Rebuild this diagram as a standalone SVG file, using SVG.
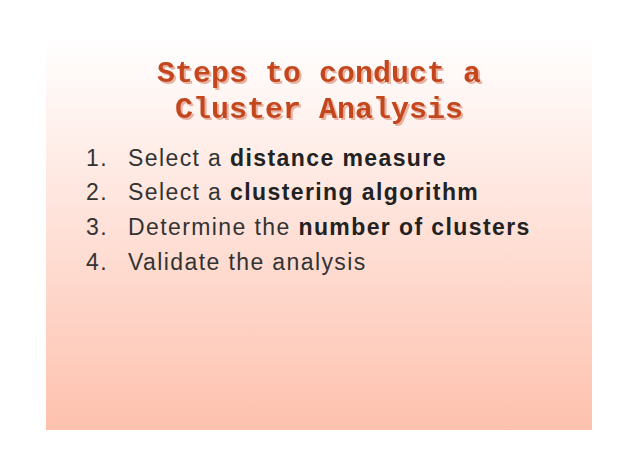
<svg xmlns="http://www.w3.org/2000/svg" width="638" height="451" viewBox="0 0 638 451">
<defs>
<linearGradient id="bg" x1="0" y1="0" x2="0" y2="1">
<stop offset="0" stop-color="#ffffff"/>
<stop offset="1" stop-color="#fec1ae"/>
</linearGradient>
<filter id="sh" x="-5%" y="-20%" width="110%" height="140%">
<feOffset in="SourceAlpha" dx="2" dy="2" result="o"/>
<feFlood flood-color="#e7b3a0"/>
<feComposite in2="o" operator="in" result="s"/>
<feMerge><feMergeNode in="s"/><feMergeNode in="SourceGraphic"/></feMerge>
</filter>
<style>
.t{font-family:"Liberation Mono",monospace;font-weight:bold;font-size:30px;text-anchor:middle;fill:#c4461f}
.l{font-family:"Liberation Sans",Arial,sans-serif;font-size:23px;letter-spacing:1.4px;fill:#333}
.b{font-weight:bold;fill:#222}
</style>
</defs>
<rect width="638" height="451" fill="#fff"/>
<rect x="46" y="37" width="546" height="393" fill="url(#bg)"/>
<g filter="url(#sh)">
<text class="t" x="319" y="82">Steps to conduct a
</text>
</g>
<g filter="url(#sh)">
<text class="t" x="319" y="118">Cluster Analysis</text>
</g>
<text class="l" x="86" y="166">1.</text><text class="l" x="128" y="166">Select a <tspan class="b">distance measure</tspan></text>
<text class="l" x="86" y="200">2.</text><text class="l" x="128" y="200">Select a <tspan class="b">clustering algorithm</tspan></text>
<text class="l" x="86" y="235">3.</text><text class="l" x="128" y="235">Determine the <tspan class="b">number of clusters</tspan></text>
<text class="l" x="86" y="270">4.</text><text class="l" x="128" y="270">Validate the analysis</text>
</svg>
